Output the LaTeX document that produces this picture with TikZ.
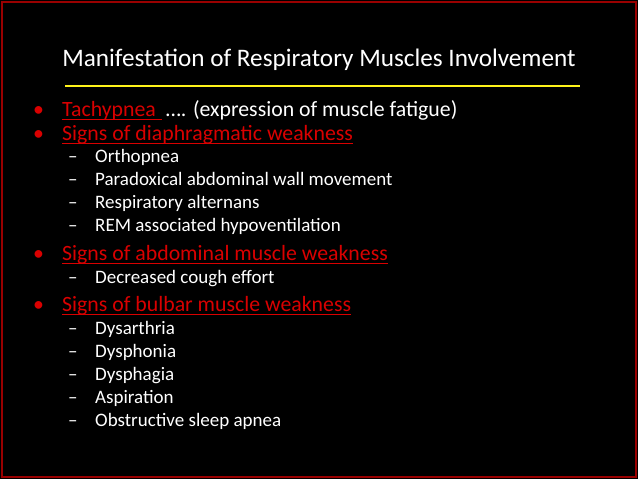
\documentclass[tikz,border=0pt]{standalone}
\usepackage{fontspec}
\setmainfont{Carlito}
\begin{document}
\begin{tikzpicture}[x=1pt,y=-1pt,
  every node/.style={inner sep=0pt,anchor=base west,text=white},
  lone/.style={font=\fontsize{21.8}{24}\selectfont},
  ltwo/.style={font=\fontsize{19}{22}\selectfont},
  redtxt/.style={text=red!85!black},
  bul/.style={text=red!85!black,font=\fontsize{21.8}{24}\selectfont},
  dsh/.style={font=\fontsize{19}{22}\selectfont}]
\fill[black] (0,0) rectangle (638,479);
\draw[red!60!black,line width=1.2pt] (2,2) rectangle (636,477);
\node[anchor=base,font=\fontsize{25.2}{28}\selectfont] (title) at (319,66) {Manifestation of Respiratory Muscles Involvement};
\coordinate (ul1) at (65,86); \coordinate (ul2) at (580,86);
\draw[yellow!90!white,line width=1.3pt] (ul1) -- (ul2);
\foreach \y/\t/\r in {116/{Tachypnea\rule{6pt}{0pt}}/a,140/{Signs of diaphragmatic weakness}/b,260/{Signs of abdominal muscle weakness}/c,311/{Signs of bulbar muscle weakness}/d}{
  \node[bul] (b\r) at (33,\y) {•};
  \node[lone,redtxt] (t\r) at (62,\y) {\t};
  \draw[red!85!black,line width=1pt] ([yshift=-3.5pt]t\r.base west) -- ([yshift=-3.5pt]t\r.base east);
}
\node[lone,anchor=base west] (ta2) at (ta.base east) {\,…. (expression of muscle fatigue)};
\foreach \y/\t [count=\i] in {162/Orthopnea,185/Paradoxical abdominal wall movement,208/Respiratory alternans,231/REM associated hypoventilation,283/Decreased cough effort,334/Dysarthria,357/Dysphonia,380/Dysphagia,403/Aspiration,426/Obstructive sleep apnea}{
  \node[dsh] (d\i) at (68,\y) {–};
  \node[ltwo] (s\i) at (95,\y) {\t};
}
\end{tikzpicture}
\end{document}
